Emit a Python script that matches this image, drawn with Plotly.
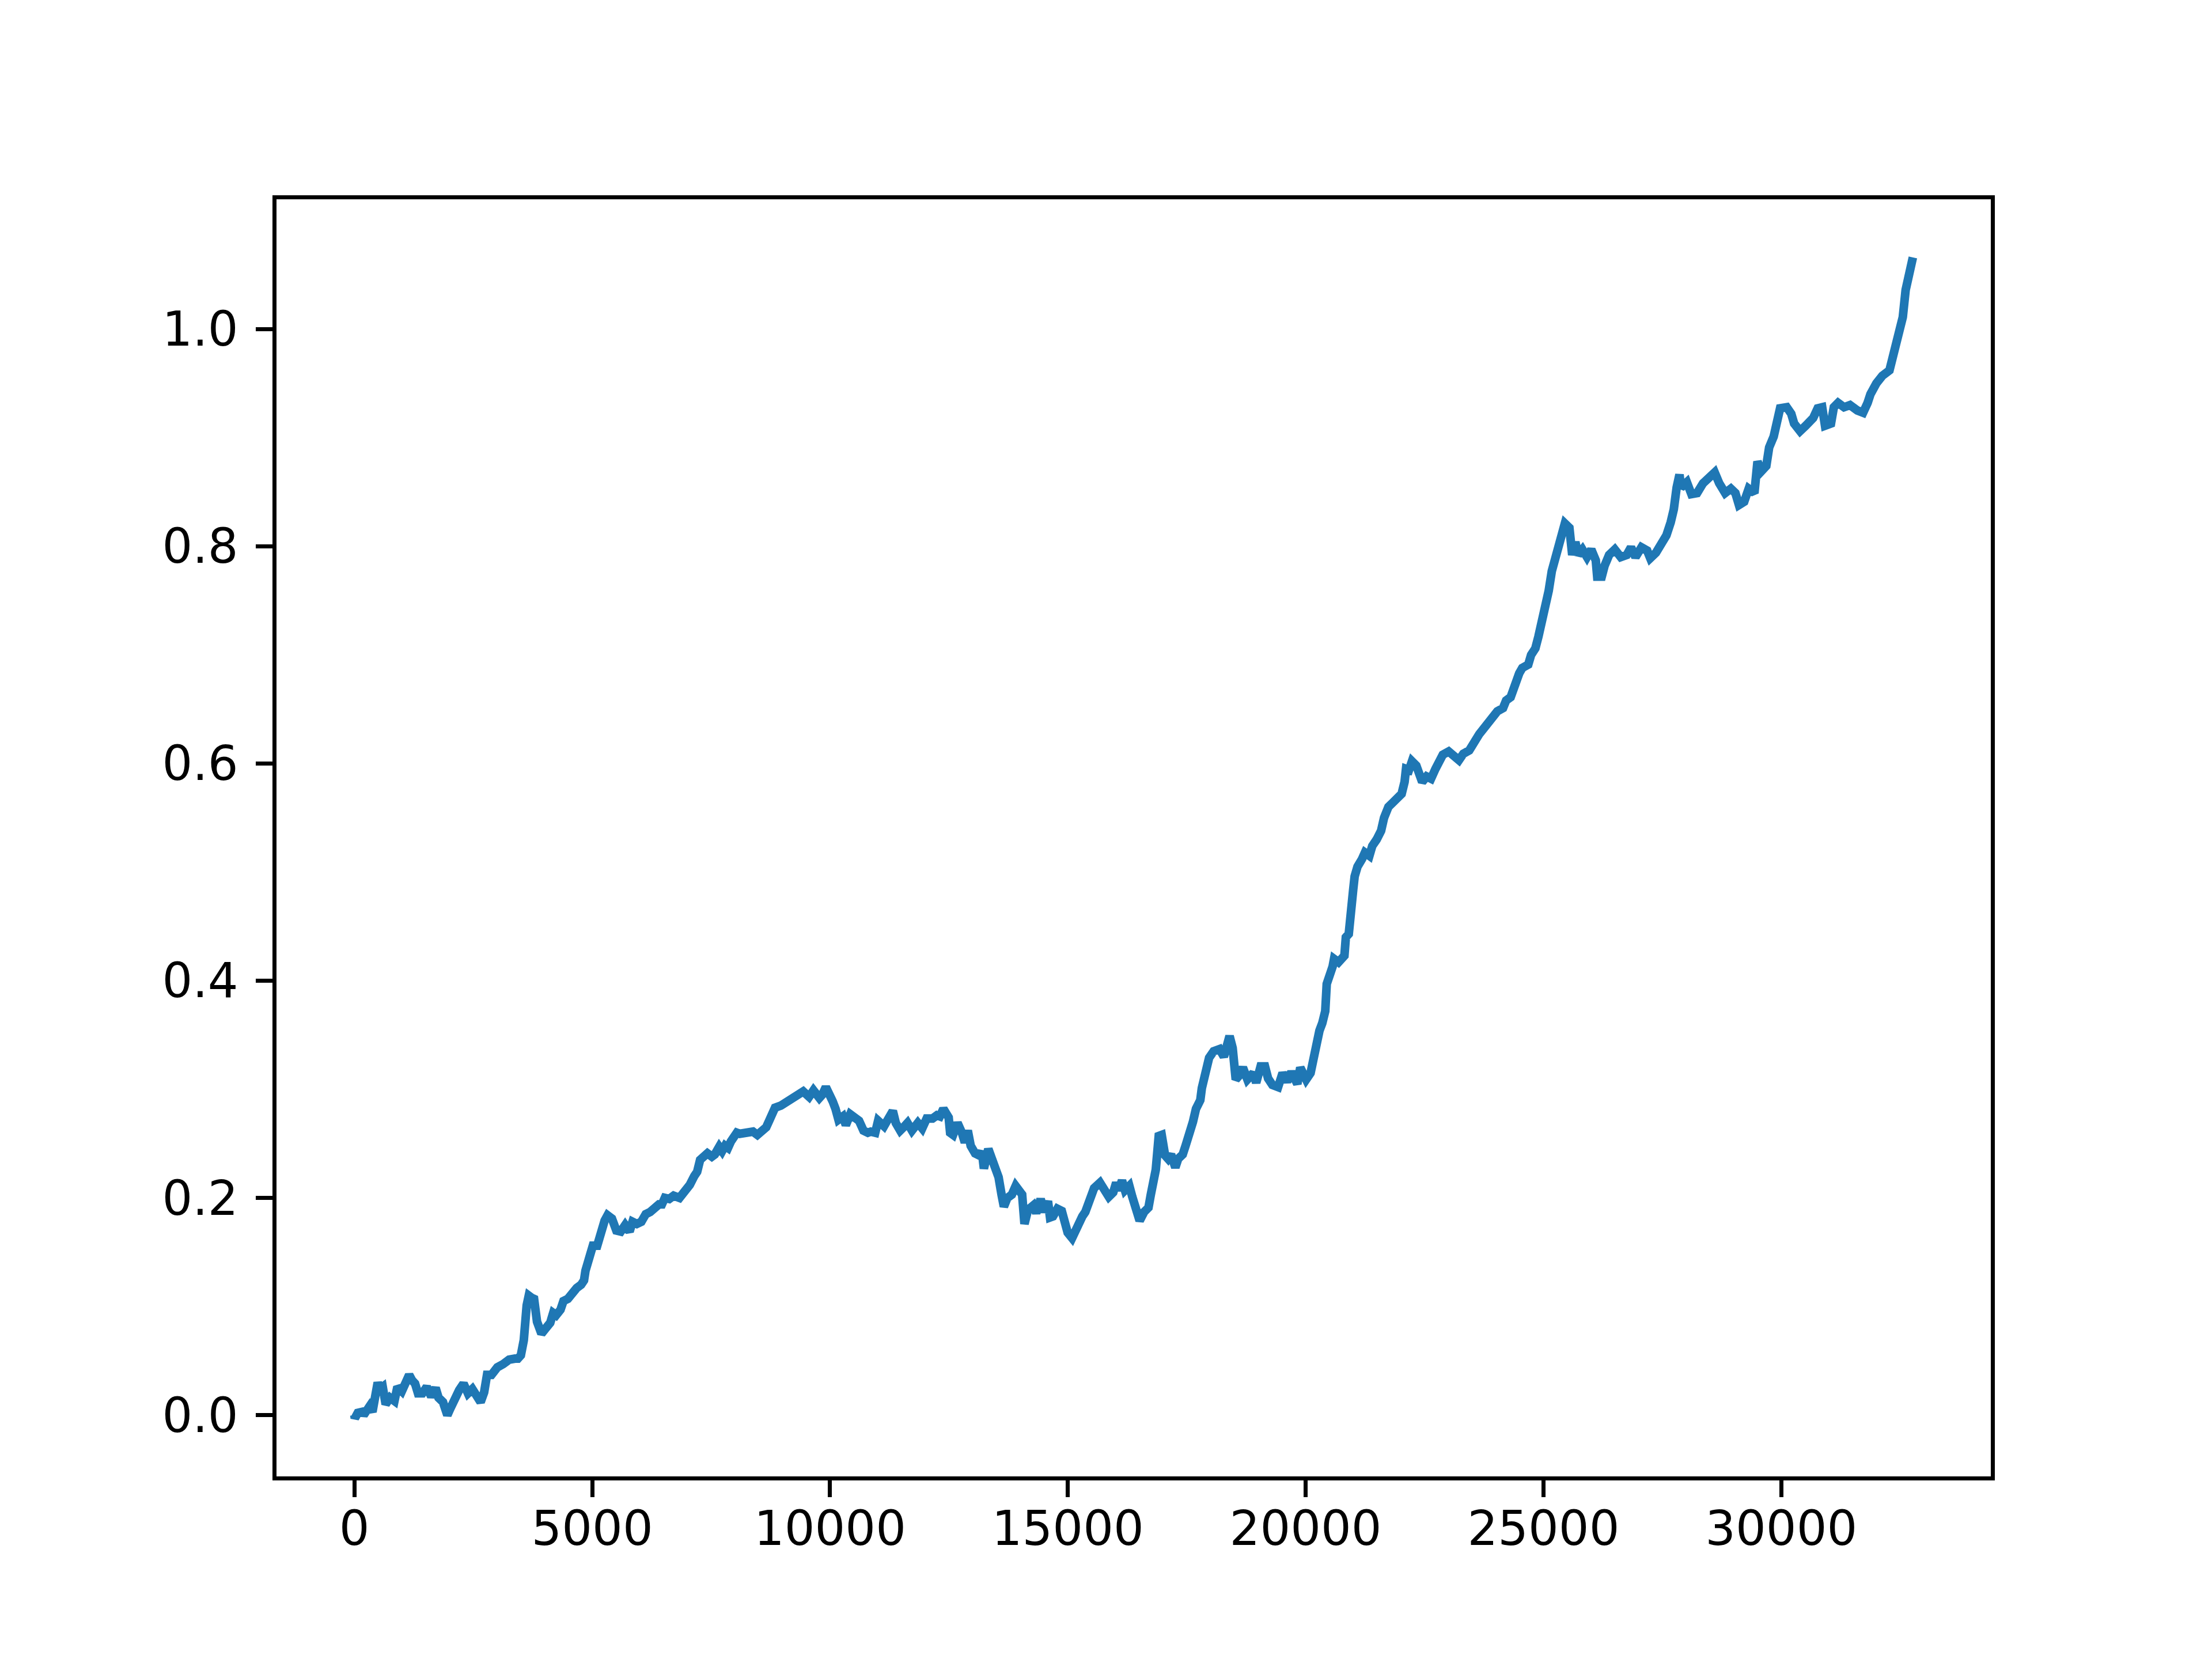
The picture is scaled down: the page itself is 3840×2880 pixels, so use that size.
import plotly.graph_objects as go

# step index and value of the running curve
steps = [
    0, 8, 70, 163, 194, 256, 317, 379, 441, 490, 534, 595, 657, 750, 842, 904,
    997, 1090, 1151, 1213, 1275, 1337, 1429, 1522, 1615, 1707, 1769, 1862, 1954,
    2016, 2078, 2140, 2202, 2294, 2387, 2480, 2572, 2653, 2727, 2788, 2881, 3005,
    3128, 3252, 3375, 3437, 3499, 3561, 3622, 3666, 3728, 3777, 3839, 3882, 3932,
    4024, 4117, 4179, 4241, 4333, 4395, 4488, 4580, 4673, 4766, 4827, 4858, 4920,
    4951, 5013, 5105, 5167, 5198, 5260, 5322, 5414, 5507, 5600, 5692, 5785, 5847,
    5939, 6032, 6125, 6218, 6310, 6403, 6465, 6526, 6619, 6712, 6835, 6928, 6990,
    7051, 7144, 7206, 7268, 7360, 7422, 7515, 7577, 7669, 7731, 7793, 7855, 7916,
    7978, 8040, 8102, 8194, 8287, 8380, 8472, 8565, 8658, 8720, 8781, 8843, 8967,
    9090, 9214,
    9281, 9374, 9436, 9560, 9652, 9776, 9838, 9912, 9992, 10054, 10115, 10177,
    10270, 10332, 10424, 10517, 10610, 10703, 10795, 10857, 10950, 11011, 11135,
    11227, 11320, 11382, 11475, 11567, 11629, 11722, 11846, 11938, 12031, 12154,
    12247, 12309, 12383, 12494, 12525, 12587, 12680, 12772, 12834, 12896, 12957,
    13050, 13143, 13192, 13235, 13328, 13421, 13482, 13544, 13606, 13655, 13730,
    13823, 13903, 13977, 14039, 14088, 14162, 14273, 14335, 14428, 14502, 14582,
    14625, 14687, 14780, 14872, 14934, 14996, 15089, 15151, 15212, 15305, 15367,
    15429, 15490, 15552, 15676, 15768, 15861, 15954, 16016, 16065, 16139, 16201,
    16293, 16355, 16417, 16510, 16603, 16695, 16744, 16818, 16849, 16911, 16973,
    17045, 17107, 17170, 17260, 17320, 17415, 17475, 17540, 17630, 17694, 17785,
    17817, 17880, 17970, 18065, 18190, 18280, 18340, 18400, 18465, 18530, 18590,
    18680, 18775, 18900, 18960, 19053, 19145, 19210, 19300, 19420, 19515, 19610,
    19700, 19825, 19887, 20010, 20103, 20165, 20227, 20290, 20350, 20412, 20443,
    20505, 20567, 20597, 20690, 20815, 20845, 20906, 20937, 21000, 21030, 21090,
    21185, 21246, 21340, 21400, 21493, 21586, 21648, 21740, 21833, 21926, 22018,
    22080, 22110, 22173, 22235, 22327, 22390, 22450, 22543, 22636, 22729, 22883,
    23007, 23130, 23223, 23316, 23440, 23650, 23860,
    24030, 24150, 24215, 24310, 24370, 24430, 24490, 24555, 24680, 24740, 24830,
    24895, 24955, 24990, 25050, 25110, 25175, 25235, 25265, 25330, 25390, 25450,
    25545, 25575, 25605, 25670, 25730, 25820, 25915, 26005, 26100, 26130, 26225,
    26285, 26380, 26500, 26625, 26750, 26840, 26935, 27060, 27180, 27245, 27365,
    27490, 27585, 27675, 27740, 27800, 27860, 27890, 28015, 28110, 28230, 28355,
    28480, 28600, 28695, 28820, 28940, 29035, 29110, 29220, 29315, 29435, 29500,
    29580, 29685, 29745, 29840, 29930, 29975, 30115, 30210, 30270, 30395, 30515,
    30670, 30765, 30860, 30920, 31045, 31105, 31195, 31320, 31445, 31600, 31720,
    31815, 31875, 32000, 32125, 32275, 32340, 32430, 32495, 32555, 32615, 32680,
    32767,
]

values = [
    0.0, -0.003, 0.002, 0.003, 0.0, 0.006, 0.008, 0.003, 0.028, 0.03, 0.024, 0.026,
    0.01, 0.016, 0.013, 0.026, 0.022, 0.035, 0.037, 0.032, 0.029, 0.02, 0.02, 0.026,
    0.017, 0.025, 0.016, 0.012, 0.0, 0.006, 0.013, 0.021, 0.023, 0.029, 0.02, 0.024,
    0.018, 0.012, 0.021, 0.037, 0.037, 0.044, 0.047, 0.051, 0.052, 0.052, 0.055,
    0.069, 0.101, 0.11, 0.108, 0.107, 0.086, 0.078, 0.075, 0.08, 0.085, 0.094, 0.092,
    0.097, 0.105, 0.107, 0.113, 0.117, 0.12, 0.124, 0.133, 0.143, 0.151, 0.156,
    0.156, 0.166, 0.175, 0.179, 0.184, 0.181, 0.17, 0.169, 0.175, 0.169, 0.178,
    0.176, 0.178, 0.185, 0.187, 0.191, 0.194, 0.194, 0.2, 0.199, 0.202, 0.2, 0.205,
    0.209, 0.212, 0.22, 0.224, 0.235, 0.238, 0.241, 0.238, 0.24, 0.247, 0.243,
    0.248, 0.246, 0.252, 0.255, 0.26, 0.259, 0.26, 0.259, 0.261, 0.258, 0.261,
    0.265, 0.271, 0.276, 0.283, 0.285, 0.288, 0.292,
    0.294, 0.296, 0.298, 0.293, 0.299, 0.292, 0.295, 0.302, 0.296, 0.289, 0.282,
    0.272, 0.275, 0.267, 0.277, 0.275, 0.271, 0.262, 0.26, 0.261, 0.26, 0.271,
    0.266, 0.273, 0.28, 0.269, 0.262, 0.266, 0.269, 0.262, 0.269, 0.264, 0.273,
    0.273, 0.276, 0.275, 0.282, 0.274, 0.26, 0.258, 0.269, 0.26, 0.251, 0.262,
    0.248, 0.241, 0.239, 0.243, 0.227, 0.245, 0.235, 0.225, 0.219, 0.203, 0.192,
    0.2, 0.203, 0.211, 0.208, 0.203, 0.176, 0.189, 0.193, 0.186, 0.199, 0.187,
    0.197, 0.182, 0.183, 0.19, 0.188, 0.18, 0.168, 0.163, 0.17, 0.176, 0.183,
    0.187, 0.195, 0.205, 0.209, 0.214, 0.208, 0.201, 0.205, 0.214, 0.207, 0.216,
    0.207, 0.211, 0.201, 0.191, 0.179, 0.187, 0.191, 0.203, 0.221, 0.226, 0.257,
    0.258,
    0.239, 0.236, 0.24, 0.228, 0.236, 0.24, 0.248, 0.261, 0.27, 0.282, 0.29,
    0.301, 0.316, 0.329, 0.335, 0.337, 0.33, 0.338, 0.349, 0.338, 0.309, 0.312,
    0.32, 0.309, 0.315, 0.306, 0.321, 0.321, 0.31, 0.304, 0.302, 0.315, 0.307,
    0.316, 0.305, 0.32, 0.309, 0.315, 0.33, 0.344, 0.354, 0.361, 0.372, 0.397,
    0.403, 0.413, 0.42, 0.417, 0.423, 0.44, 0.443, 0.465, 0.484, 0.496, 0.505,
    0.512, 0.518, 0.515, 0.524, 0.53, 0.538, 0.55, 0.56, 0.564, 0.569, 0.572,
    0.583, 0.595, 0.594, 0.602, 0.598, 0.589, 0.583, 0.588, 0.586, 0.595, 0.608,
    0.611, 0.605, 0.603, 0.609, 0.612, 0.627, 0.64,
    0.648, 0.651, 0.658, 0.661, 0.67, 0.68, 0.683, 0.688, 0.691, 0.7, 0.706,
    0.717, 0.727, 0.74, 0.75, 0.759, 0.777, 0.787, 0.797, 0.804, 0.816, 0.821,
    0.817, 0.794, 0.792, 0.804, 0.792, 0.797, 0.79, 0.797, 0.787, 0.772, 0.772,
    0.782, 0.792, 0.797, 0.79, 0.792, 0.799, 0.79, 0.799, 0.796, 0.789, 0.794,
    0.802, 0.81, 0.822, 0.834, 0.854, 0.866, 0.854, 0.859, 0.848, 0.849, 0.858,
    0.864, 0.868, 0.858, 0.849, 0.853, 0.849, 0.838, 0.841, 0.853, 0.849, 0.878,
    0.869, 0.874, 0.891, 0.901, 0.918, 0.927, 0.928, 0.922, 0.913, 0.906, 0.911,
    0.918, 0.927, 0.928, 0.911, 0.913, 0.928, 0.932, 0.928, 0.93, 0.925, 0.923,
    0.932, 0.94, 0.95, 0.957, 0.962, 0.974, 0.984, 0.995, 1.011, 1.036, 1.054,
    1.066,
]

x_ticks = [0, 5000, 10000, 15000, 20000, 25000, 30000]
y_ticks = [0.0, 0.2, 0.4, 0.6, 0.8, 1.0]

# matplotlib-style autoscale with 5% margins
xpad = 0.05 * (max(steps) - min(steps))
ypad = 0.05 * (max(values) - min(values))

fig = go.Figure([go.Scatter(
    x = steps, y = values, mode = "lines",
    line = dict(color = "#1f77b4", width = 15),
    showlegend = False,
)])

axis_style = dict(
    showgrid = False,
    zeroline = False,
    showline = True,
    mirror = True,
    linecolor = "black",
    linewidth = 6.7,
    ticks = "outside",
    ticklen = 29,
    tickwidth = 6.7,
    tickcolor = "black",
    tickfont = dict(family = "DejaVu Sans", size = 83, color = "black"),
)

# the page body has an 8px margin, so the figure is shrunk by that much
fig.update_layout(
    width = 3824,
    height = 2864,
    margin = dict(l = 472, r = 376, t = 338, b = 309, autoexpand = False),
    paper_bgcolor = "white",
    plot_bgcolor = "white",
    font = dict(family = "DejaVu Sans", size = 83, color = "black"),
    xaxis = dict(
        range = [min(steps) - xpad, max(steps) + xpad],
        tickvals = x_ticks,
        ticktext = [str(t) for t in x_ticks],
        ticklabelstandoff = -16,
        **axis_style
    ),
    yaxis = dict(
        range = [min(values) - ypad, max(values) + ypad],
        tickvals = y_ticks,
        ticktext = ["%.1f" % t for t in y_ticks],
        ticklabelstandoff = 14,
        **axis_style
    ),
)

fig.write_html("out.html")
